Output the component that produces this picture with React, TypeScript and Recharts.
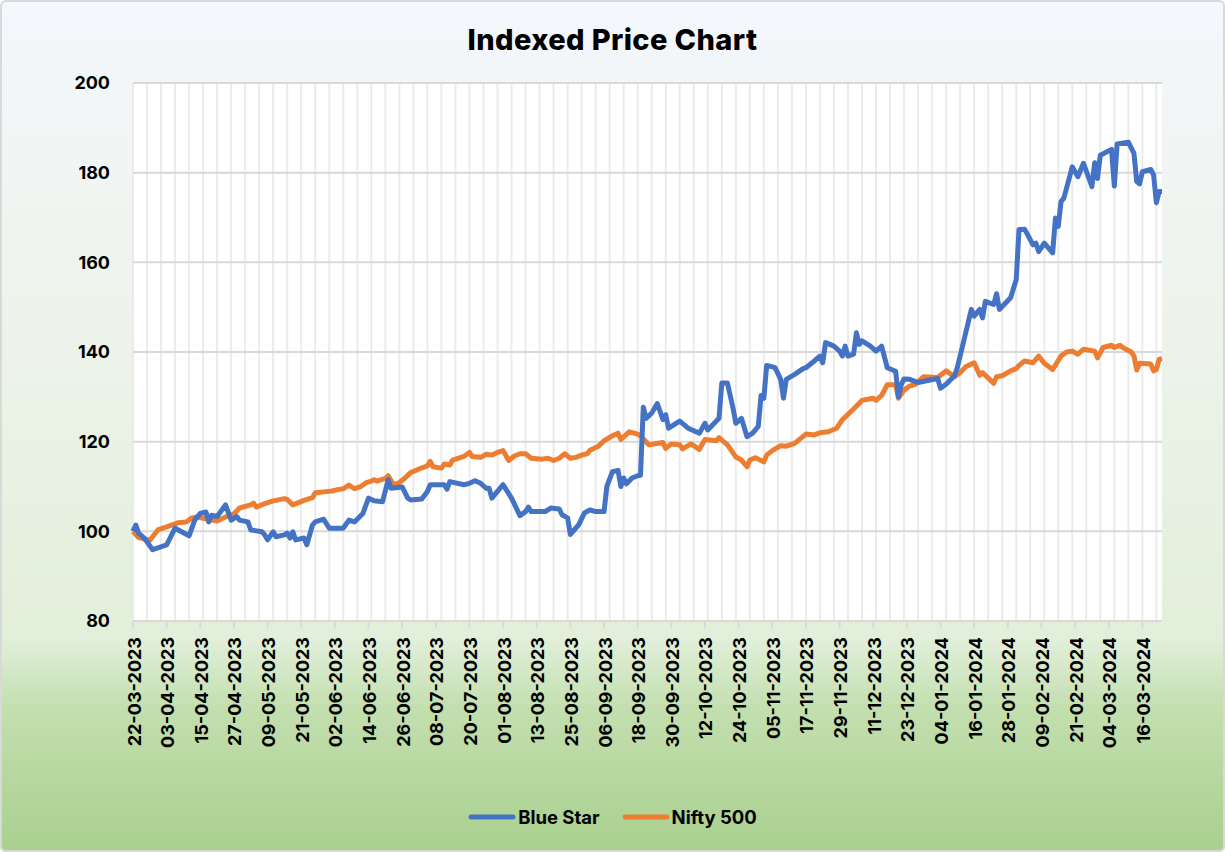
import React from 'react';
import { LineChart, Line, XAxis, YAxis, CartesianGrid, Legend } from 'recharts';

// ---------- data ----------
const START_DATE = '22-03-2023';
const X_TICK_LABELS = [
  '22-03-2023', '03-04-2023', '15-04-2023', '27-04-2023', '09-05-2023', '21-05-2023',
  '02-06-2023', '14-06-2023', '26-06-2023', '08-07-2023', '20-07-2023', '01-08-2023',
  '13-08-2023', '25-08-2023', '06-09-2023', '18-09-2023', '30-09-2023', '12-10-2023',
  '24-10-2023', '05-11-2023', '17-11-2023', '29-11-2023', '11-12-2023', '23-12-2023',
  '04-01-2024', '16-01-2024', '28-01-2024', '09-02-2024', '21-02-2024', '04-03-2024',
  '16-03-2024',
];
const Y_TICKS = [80, 100, 120, 140, 160, 180, 200];
const END_DAY = 367;
const GRID_STEP_DAYS = 5;

const SERIES_NAMES = ['Blue Star', 'Nifty 500'];
const SERIES_COLORS = ['#4472C4', '#ED7D31'];

// days since START_DATE
const BLUE_STAR_DAYS = [
  0, 1, 2, 4, 7, 12, 15, 20, 22, 24, 26, 27, 28, 30, 33, 35, 37, 38, 41, 42,
  46, 47, 48, 50, 51, 54, 55, 56, 57, 58, 61, 62, 64, 65, 68, 70, 75, 77, 79, 82,
  84, 86, 89, 91, 92, 96, 98, 99, 103, 105, 106, 111, 112, 113, 118, 120, 122, 124, 126, 127,
  128, 130, 132, 135, 138, 140, 141, 142, 147, 149, 152, 153, 155, 156, 159, 161, 163, 165, 168, 169,
  171, 173, 174, 175, 176, 178, 180, 181, 182, 183, 185, 187, 189, 190, 191, 195, 198, 202, 204, 205,
  209, 210, 212, 214, 215, 217, 219, 221, 223, 224, 225, 226, 229, 231, 232, 233, 236, 239, 240, 243,
  245, 246, 247, 250, 252, 253, 254, 255, 257, 258, 259, 260, 263, 265, 267, 269, 272, 273, 274, 275,
  277, 280, 283, 287, 288, 290, 293, 294, 297, 299, 300, 302, 303, 304, 307, 308, 309, 313, 315, 316,
  318, 321, 322, 323, 325, 328, 329, 330, 331, 332, 335, 337, 339, 342, 343, 344, 345, 349, 350, 351,
  355, 357, 358, 359, 360, 363, 364, 365, 366, 367,
];
const BLUE_STAR_VALUES = [
  100, 101.4, 99.6, 98.5, 95.9, 97, 100.7, 99, 102.5, 104, 104.3, 102.1, 103.6, 103.3, 105.9, 102.5, 103.3, 102.5, 102.1, 100.3,
  99.9, 99.2, 98.1, 99.9, 98.8, 99.2, 99.6, 98.5, 99.9, 98.1, 98.5, 97, 101.4, 102.1, 102.7, 100.7, 100.7, 102.5, 102.1, 104,
  107.4, 106.8, 106.6, 111.5, 109.6, 109.9, 107.4, 107, 107.2, 108.9, 110.4, 110.4, 109.4, 111.1, 110.4, 110.7, 111.3, 110.7, 109.6, 109.6,
  107.4, 108.9, 110.4, 107.4, 103.5, 104.4, 105.4, 104.4, 104.4, 105.2, 105, 103.7, 103, 99.3, 101.5, 104.1, 104.8, 104.4, 104.4, 110,
  113.3, 113.6, 110, 111.9, 110.6, 111.9, 112.4, 112.5, 127.7, 125.2, 126.4, 128.5, 124.9, 126, 123, 124.6, 123, 121.9, 124.1, 122.6,
  125.2, 133.1, 133.1, 127.5, 124.1, 125.2, 121.1, 121.9, 123.4, 130.3, 129.7, 137, 136.5, 133.9, 129.7, 133.9, 135, 136.3, 136.5, 138,
  139.1, 137.6, 142.1, 141.3, 140.2, 139.1, 141.3, 139.1, 139.5, 144.3, 141.7, 142.5, 141.3, 140.2, 141.3, 136.5, 135.7, 130, 132.7, 134,
  133.9, 133.2, 133.6, 134.1, 131.9, 132.8, 134.7, 136.5, 144.3, 149.5, 148, 149.5, 147.6, 151.3, 150.6, 153, 149.5, 152.1, 156.1, 167.3,
  167.4, 163.9, 164.3, 162.4, 164.3, 162.1, 169.9, 168, 173.6, 174.3, 181.3, 179.1, 182.1, 176.9, 182.2, 178.7, 183.9, 185.2, 177, 186.4,
  186.8, 184.3, 178, 177.5, 180.2, 180.7, 179.5, 173.3, 175.8, 175.8,
];

const NIFTY_DAYS = [
  0, 2, 6, 9, 12, 16, 19, 21, 23, 26, 30, 33, 36, 38, 42, 43, 44, 47, 50, 54,
  55, 57, 61, 64, 65, 68, 71, 73, 75, 77, 79, 81, 83, 85, 86, 87, 90, 91, 93, 95,
  97, 99, 102, 105, 106, 107, 110, 111, 113, 114, 118, 120, 121, 124, 126, 128, 130, 132, 134, 136,
  138, 140, 142, 146, 148, 150, 152, 154, 156, 158, 160, 162, 163, 166, 168, 171, 173, 174, 177, 180,
  181, 184, 189, 190, 192, 195, 196, 199, 202, 204, 208, 209, 212, 215, 217, 219, 220, 222, 225, 226,
  228, 231, 233, 236, 240, 243, 245, 248, 251, 253, 257, 260, 264, 265, 267, 269, 272, 273, 275, 277,
  279, 282, 287, 288, 290, 293, 295, 297, 300, 302, 303, 307, 308, 310, 313, 315, 316, 318, 321, 323,
  325, 328, 331, 333, 335, 337, 339, 343, 344, 346, 349, 350, 352, 353, 356, 357, 358, 359, 363, 364,
  365, 366, 367,
];
const NIFTY_VALUES = [
  100, 98.6, 98, 100.4, 101, 101.9, 102.1, 103, 103.2, 102.8, 102.3, 103.2, 103.9, 105.2, 105.9, 106.3, 105.4, 106.2, 106.8, 107.3,
  107.1, 105.9, 106.9, 107.5, 108.6, 108.8, 109, 109.3, 109.5, 110.3, 109.5, 109.9, 110.8, 111.2, 111.5, 111.2, 111.8, 112.4, 110.4, 110.9,
  111.9, 113.1, 113.9, 114.6, 115.6, 114.4, 114.1, 115, 114.8, 115.9, 116.7, 117.6, 116.7, 116.5, 117.2, 117, 117.6, 118, 115.8, 116.8,
  117.3, 117.3, 116.3, 116.1, 116.3, 115.8, 116.3, 117.3, 116.3, 116.5, 117, 117.3, 118.1, 119, 120.2, 121.3, 121.9, 120.5, 122.2, 121.7,
  121.3, 119.3, 119.8, 118.5, 119.5, 119.3, 118.4, 119.5, 118.3, 120.5, 120.2, 120.9, 119.3, 116.6, 115.9, 114.4, 115.9, 116.4, 115.5, 117,
  118, 119.1, 119, 119.6, 121.7, 121.5, 122, 122.2, 123, 124.9, 127.3, 129.2, 129.7, 129.2, 130.3, 132.7, 132.7, 129.7, 131.5, 132.4,
  132.8, 134.5, 134.3, 134.8, 135.8, 134.5, 135.4, 136.7, 137.6, 134.8, 135.4, 133, 134.5, 134.7, 135.8, 136.3, 137, 138, 137.6, 139.1,
  137.5, 136.1, 139.1, 140, 140.2, 139.5, 140.6, 140.2, 138.7, 141, 141.5, 141, 141.5, 141, 140, 139.1, 136, 137.5, 137.3, 135.8,
  136.1, 138.4, 138.5,
];

// ---------- helpers ----------
const FONT = 'Inter, "Open Sans", sans-serif';

const toDay = (label: string) => {
  const [d, m, y] = label.split('-').map(Number);
  const [d0, m0, y0] = START_DATE.split('-').map(Number);
  return Math.round((Date.UTC(y, m - 1, d) - Date.UTC(y0, m0 - 1, d0)) / 86400000);
};

const X_TICKS = X_TICK_LABELS.map(toDay);
const LABEL_BY_DAY: Record<number, string> = {};
X_TICK_LABELS.forEach((l, i) => (LABEL_BY_DAY[X_TICKS[i]] = l));

const GRID_TICKS: number[] = [];
for (let d = 0; d <= END_DAY; d += GRID_STEP_DAYS) GRID_TICKS.push(d);

const blueData = BLUE_STAR_DAYS.map((day, i) => ({ day, value: BLUE_STAR_VALUES[i] }));
const niftyData = NIFTY_DAYS.map((day, i) => ({ day, value: NIFTY_VALUES[i] }));

// vertical grid every GRID_STEP_DAYS, positioned through the x-axis scale
const verticalGrid = (props: any) => {
  const { xAxis, offset } = props;
  const scale = xAxis && typeof xAxis.scale === 'function' ? xAxis.scale : null;
  return GRID_TICKS.map((d) =>
    scale ? scale(d) : offset.left + (d / END_DAY) * offset.width,
  );
};

const DateTick = (props: any) => {
  const { x, y, payload } = props;
  return (
    <text
      x={x + 1}
      y={y}
      transform={`rotate(-90, ${x + 1}, ${y})`}
      textAnchor="end"
      dominantBaseline="central"
      fontFamily={FONT}
      fontWeight={700}
      fontSize={18}
      fill="#000"
    >
      {LABEL_BY_DAY[payload.value] ?? ''}
    </text>
  );
};

const renderLegend = () => (
  <div
    style={{
      height: 40,
      display: 'flex',
      justifyContent: 'center',
      alignItems: 'center',
      fontFamily: FONT,
      fontWeight: 700,
      fontSize: 18.5,
      color: '#000',
    }}
  >
    {SERIES_NAMES.map((name, i) => (
      <div key={name} style={{ display: 'flex', alignItems: 'center', marginLeft: i === 0 ? 0 : 22 }}>
        <svg width={48} height={10}>
          <line x1={3} y1={5} x2={45} y2={5} stroke={SERIES_COLORS[i]} strokeWidth={5} strokeLinecap="round" />
        </svg>
        <span style={{ marginLeft: 2 }}>{name}</span>
      </div>
    ))}
  </div>
);

export default function App() {
  return (
    <div
      style={{
        position: 'absolute',
        left: 0,
        top: 0,
        width: 1225,
        height: 852,
        borderRadius: 6,
        background:
          'linear-gradient(to bottom, #F4F7FC 0%, #EDF3EA 40%, #E2EFDA 75%, #C3DFAF 83%, #A9D08E 100%)',
        boxShadow: 'inset 0 0 0 2px #D9D9D9',
        overflow: 'hidden',
      }}
    >
      <div
        style={{
          position: 'absolute',
          top: 21,
          left: 0,
          width: 1225,
          textAlign: 'center',
          fontFamily: FONT,
          fontWeight: 800,
          fontSize: 29,
          letterSpacing: 0.4,
          color: '#000',
          lineHeight: '38px',
        }}
      >
        Indexed Price Chart
      </div>
      <LineChart width={1225} height={852} margin={{ top: 83, right: 63, left: 0, bottom: 15 }}>
        <CartesianGrid
          horizontal={false}
          vertical={true}
          verticalCoordinatesGenerator={verticalGrid}
          stroke="#EBEBEB"
          strokeWidth={2}
          fill="#FFFFFF"
        />
        <CartesianGrid horizontal={true} vertical={false} stroke="#D9D9D9" strokeWidth={2} />
        <XAxis
          dataKey="day"
          type="number"
          domain={[0, END_DAY]}
          ticks={X_TICKS}
          interval={0}
          height={176}
          tick={<DateTick />}
          tickSize={7}
          tickMargin={9}
          tickLine={{ stroke: '#D9D9D9', strokeWidth: 2 }}
          axisLine={{ stroke: '#D9D9D9', strokeWidth: 2 }}
        />
        <YAxis
          type="number"
          domain={[80, 200]}
          ticks={Y_TICKS}
          interval={0}
          width={133}
          axisLine={false}
          tickLine={false}
          tickSize={0}
          tickMargin={23}
          tick={{ fontFamily: FONT, fontWeight: 700, fontSize: 18, fill: '#000' }}
        />
        <Legend verticalAlign="bottom" content={renderLegend} wrapperStyle={{ left: 0, width: 1225 }} />
        <Line
          data={niftyData}
          dataKey="value"
          name={SERIES_NAMES[1]}
          stroke={SERIES_COLORS[1]}
          strokeWidth={5}
          strokeLinejoin="round"
          dot={false}
          activeDot={false}
          isAnimationActive={false}
        />
        <Line
          data={blueData}
          dataKey="value"
          name={SERIES_NAMES[0]}
          stroke={SERIES_COLORS[0]}
          strokeWidth={5}
          strokeLinejoin="round"
          dot={false}
          activeDot={false}
          isAnimationActive={false}
        />
      </LineChart>
    </div>
  );
}
